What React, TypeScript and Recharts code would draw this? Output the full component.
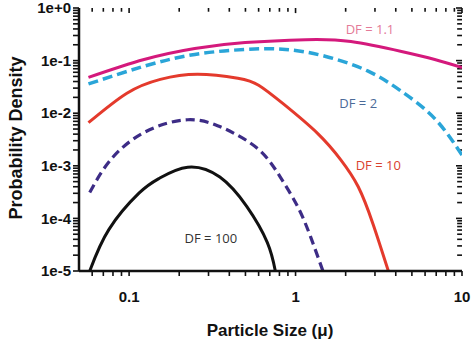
import { LineChart, Line, XAxis, YAxis, ReferenceDot, ReferenceLine } from 'recharts'

// particle size (micron) vs probability density
const df11 = [
  { x: 0.057, y: 0.048 },
  { x: 0.123, y: 0.105 },
  { x: 0.248, y: 0.17 },
  { x: 0.498, y: 0.22 },
  { x: 1.15, y: 0.25 },
  { x: 2.15, y: 0.23 },
  { x: 4.33, y: 0.149 },
  { x: 6.86, y: 0.105 },
  { x: 10, y: 0.074 },
]

const df2 = [
  { x: 0.057, y: 0.036 },
  { x: 0.123, y: 0.078 },
  { x: 0.248, y: 0.131 },
  { x: 0.498, y: 0.163 },
  { x: 0.87, y: 0.163 },
  { x: 1.52, y: 0.12 },
  { x: 2.73, y: 0.063 },
  { x: 4.33, y: 0.026 },
  { x: 6.86, y: 0.0079 },
  { x: 10, y: 0.0016 },
]

const df10 = [
  { x: 0.057, y: 0.0066 },
  { x: 0.097, y: 0.024 },
  { x: 0.154, y: 0.044 },
  { x: 0.258, y: 0.055 },
  { x: 0.45, y: 0.046 },
  { x: 0.6, y: 0.034 },
  { x: 0.845, y: 0.015 },
  { x: 1.36, y: 0.0041 },
  { x: 1.87, y: 0.0013 },
  { x: 2.38, y: 0.0004 },
  { x: 2.93, y: 0.000076 },
  { x: 3.61, y: 0.00001 },
]

const purpleDash = [
  { x: 0.058, y: 0.00031 },
  { x: 0.077, y: 0.00127 },
  { x: 0.123, y: 0.0043 },
  { x: 0.225, y: 0.0075 },
  { x: 0.34, y: 0.0058 },
  { x: 0.43, y: 0.0041 },
  { x: 0.61, y: 0.00196 },
  { x: 0.81, y: 0.00061 },
  { x: 1.03, y: 0.000167 },
  { x: 1.23, y: 0.000045 },
  { x: 1.46, y: 0.00001 },
]

const df100 = [
  { x: 0.058, y: 0.00001 },
  { x: 0.0757, y: 0.000062 },
  { x: 0.115, y: 0.000305 },
  { x: 0.152, y: 0.00058 },
  { x: 0.225, y: 0.00094 },
  { x: 0.351, y: 0.00061 },
  { x: 0.51, y: 0.000167 },
  { x: 0.676, y: 0.000035 },
  { x: 0.756, y: 0.00001 },
]

const xMajor = [0.1, 1, 10]
const xLabels = ['0.1', '1', '10']
const yMajor = [1, 0.1, 0.01, 0.001, 0.0001, 0.00001]
const yLabels = ['1e+0', '1e-1', '1e-2', '1e-3', '1e-4', '1e-5']
const minorSteps = [2, 3, 4, 5, 6, 7, 8, 9]

const dfLabels = [
  { text: 'DF = 1.1', x: 2.8, y: 0.4, color: '#e47a98' },
  { text: 'DF = 2', x: 2.38, y: 0.0155, color: '#4b6a98' },
  { text: 'DF = 10', x: 3.14, y: 0.001, color: '#d9412e' },
  { text: 'DF = 100', x: 0.31, y: 0.000042, color: '#333333' },
]

const xMinor = [0.01, 0.1, 1]
  .flatMap((d) => minorSteps.map((m) => +(m * d).toPrecision(3)))
  .filter((v) => v > 0.05 && v < 10)
const yMinor = [0.00001, 0.0001, 0.001, 0.01, 0.1]
  .flatMap((d) => minorSteps.map((m) => +(m * d).toPrecision(3)))

const xTicks = [...xMajor, ...xMinor]
const yTicks = [...yMajor, ...yMinor]

const tickFont = {
  fontFamily: '"Liberation Sans", Arial, sans-serif',
  fontWeight: 700,
  fontSize: 15,
  fill: '#111',
}

function BottomLabel({ x, y, payload }: any) {
  const i = xMajor.indexOf(payload.value)
  if (i < 0) return <g />
  return (
    <text x={x} y={y + 21} dy="0.35em" textAnchor="middle" {...tickFont}>
      {xLabels[i]}
    </text>
  )
}

function LeftLabel({ x, y, payload }: any) {
  const i = yMajor.indexOf(payload.value)
  if (i < 0) return <g />
  return (
    <text x={x - 2} y={y} dy="0.35em" textAnchor="end" {...tickFont}>
      {yLabels[i]}
    </text>
  )
}

const noLabel = () => <g />

export default function App() {
  const axisLine = { stroke: '#111', strokeWidth: 2.5 }
  const tickLine = { stroke: '#111', strokeWidth: 1.6 }
  return (
    <div style={{ position: 'relative', width: 474, height: 343, background: '#fff' }}>
      <style>{'body{margin:0}'}</style>
      <LineChart width={474} height={343} margin={{ top: 8, right: 12, left: 0, bottom: 0 }}>
        <XAxis
          dataKey="x"
          type="number"
          scale="log"
          domain={[0.05, 10]}
          allowDataOverflow
          ticks={xTicks}
          interval={0}
          height={72}
          tickSize={5}
          tickMargin={0}
          tickLine={tickLine}
          axisLine={axisLine}
          tick={(p: any) => <BottomLabel {...p} />}
        />
        <XAxis
          xAxisId="top"
          orientation="top"
          mirror
          dataKey="x"
          type="number"
          scale="log"
          domain={[0.05, 10]}
          allowDataOverflow
          ticks={xTicks}
          interval={0}
          height={0}
          tickSize={0}
          tickLine={false}
          axisLine={axisLine}
          tick={noLabel}
        />
        <YAxis
          type="number"
          scale="log"
          domain={[0.00001, 1]}
          allowDataOverflow
          ticks={yTicks}
          interval={0}
          width={79}
          tickSize={6}
          tickMargin={0}
          tickLine={tickLine}
          axisLine={axisLine}
          tick={(p: any) => <LeftLabel {...p} />}
        />
        <YAxis
          yAxisId="right"
          orientation="right"
          mirror
          type="number"
          scale="log"
          domain={[0.00001, 1]}
          allowDataOverflow
          ticks={yTicks}
          interval={0}
          width={0}
          tickSize={0}
          tickLine={false}
          axisLine={axisLine}
          tick={noLabel}
        />
        {/* inward ticks on the top and right frame edges */}
        {xTicks.map((v) => (
          <ReferenceLine
            key={`top-${v}`}
            segment={[
              { x: v, y: 1 },
              { x: v, y: xMajor.includes(v) ? 0.8 : 0.85 },
            ]}
            stroke="#111"
            strokeWidth={1.6}
            ifOverflow="visible"
          />
        ))}
        {yTicks.map((v) => (
          <ReferenceLine
            key={`right-${v}`}
            segment={[
              { x: 10, y: v },
              { x: yMajor.includes(v) ? 9.2 : 9.35, y: v },
            ]}
            stroke="#111"
            strokeWidth={1.6}
            ifOverflow="visible"
          />
        ))}
        <Line data={df11} dataKey="y" type="natural" stroke="#d4197c" strokeWidth={3} dot={false} isAnimationActive={false} />
        <Line data={df2} dataKey="y" type="natural" stroke="#2aa5d8" strokeWidth={3.5} strokeDasharray="10 5" dot={false} isAnimationActive={false} />
        <Line data={df10} dataKey="y" type="natural" stroke="#e43a2c" strokeWidth={3} dot={false} isAnimationActive={false} />
        <Line data={purpleDash} dataKey="y" type="natural" stroke="#3d2c86" strokeWidth={3.2} strokeDasharray="9 5" dot={false} isAnimationActive={false} />
        <Line data={df100} dataKey="y" type="natural" stroke="#111111" strokeWidth={3} dot={false} isAnimationActive={false} />
        {dfLabels.map((l) => (
          <ReferenceDot
            key={l.text}
            x={l.x}
            y={l.y}
            r={0}
            fill="none"
            stroke="none"
            label={{
              value: l.text,
              position: 'center',
              fill: l.color,
              fontSize: 13,
              fontFamily: '"Open Sans", "Noto Sans", sans-serif',
            }}
          />
        ))}
      </LineChart>
      <div
        style={{
          position: 'absolute',
          left: 16,
          top: 138,
          transform: 'translate(-50%, -50%) rotate(-90deg)',
          whiteSpace: 'nowrap',
          font: '700 18px "Liberation Sans", Arial, sans-serif',
          color: '#111',
        }}
      >
        Probability Density
      </div>
      <div
        style={{
          position: 'absolute',
          left: 270,
          top: 331,
          transform: 'translate(-50%, -50%)',
          whiteSpace: 'nowrap',
          font: '700 17px "Liberation Sans", Arial, sans-serif',
          color: '#111',
        }}
      >
        Particle Size (μ)
      </div>
    </div>
  )
}
